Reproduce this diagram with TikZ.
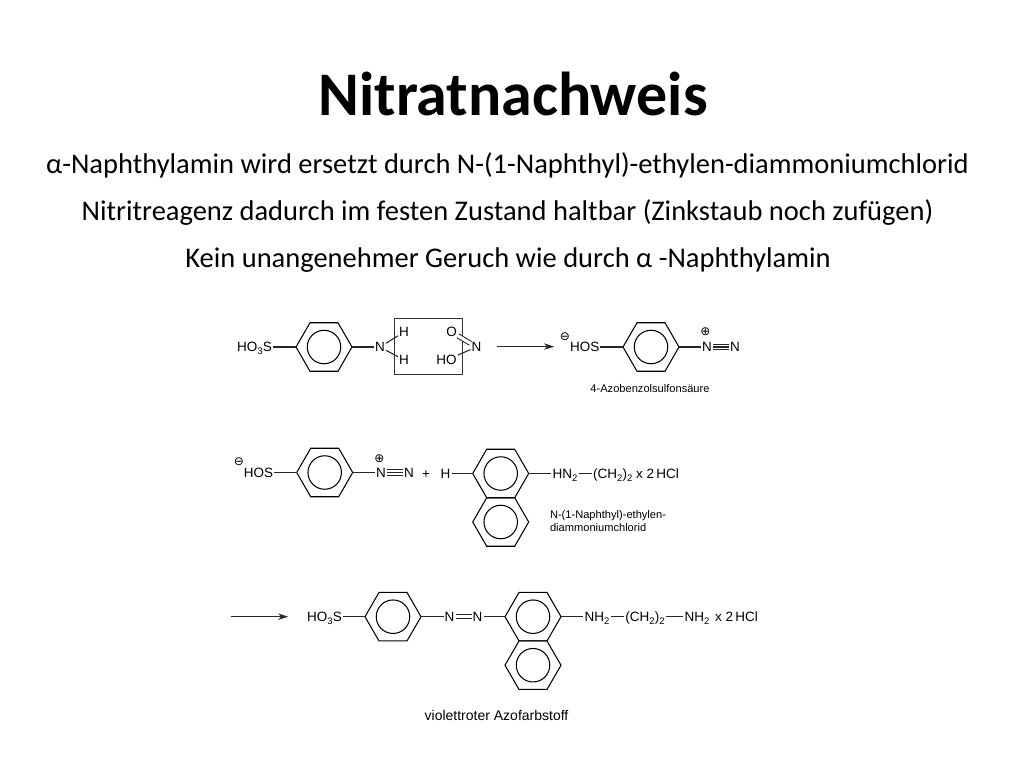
\documentclass[tikz,border=0pt]{standalone}
\usepackage{fontspec}
\usepackage{xcolor}
\setmainfont{Carlito}
\newfontfamily\chem{Liberation Sans}
\newfontfamily\ladung{DejaVu Sans}
\usetikzlibrary{shapes.geometric,arrows.meta}
\newcommand{\tief}[1]{\raisebox{-2.8pt}{\fontsize{9.5}{9.5}\selectfont #1}}

\begin{document}
\begin{tikzpicture}[x=1pt,y=-1pt,line width=1.05pt,
   titel/.style={anchor=base,inner sep=0pt,font=\fontsize{62}{62}\selectfont\bfseries},
   zeile/.style={anchor=base,inner sep=0pt,font=\fontsize{28.5}{28.5}\selectfont},
   atom/.style={inner sep=0.6pt,text height=9.7pt,text depth=0pt,font=\chem\fontsize{13.5}{13.5}\selectfont},
   legende/.style={inner sep=0pt,align=left,font=\chem\fontsize{11.1}{13}\selectfont},
   ladungszeichen/.style={inner sep=0pt,font=\ladung\fontsize{12}{12}\selectfont},
   benzol/.style={regular polygon,regular polygon sides=6,draw,minimum size=56pt,inner sep=0pt,outer sep=0pt},
   kreis/.style={circle,draw,minimum size=33.5pt,inner sep=0pt,outer sep=0pt},
   bond/.style={draw=black!85},
   doppelt/.style={double,double distance=3.2pt},
   dreifach/.style={double,double distance=4.6pt},
   pfeil/.style={-{Stealth[length=10pt,width=6.5pt]},draw=black!85}]

  \useasboundingbox (0,0) rectangle (1024,768);

  \node[titel](titel) at (513,115) {Nitratnachweis};
  \node[zeile](zeile1) at (507.5,173) {α-Naphthylamin wird ersetzt durch N-(1-Naphthyl)-ethylen-diammoniumchlorid};
  \node[zeile](zeile2) at (507.5,220) {Nitritreagenz dadurch im festen Zustand haltbar (Zinkstaub noch zufügen)};
  \node[zeile](zeile3) at (508,267) {Kein unangenehmer Geruch wie durch α -Naphthylamin};

  % ringe
  \foreach \nm/\px/\py in {ra/324/347,rb/651/347,rc/324.7/472.5,rd/500.7/473.5,re/500.7/522,rf/393/616.7,rg/533/616.7,rh/533/665.2} {
    \node[benzol](\nm) at (\px,\py) {};
    \node[kreis](\nm k) at (\px,\py) {};
  }

  % erste zeile
  \node[atom](a1) at (254.5,347) {HO\tief{3}S};
  \node[atom](a2) at (380,347) {N};
  \node[atom](a3) at (404,332) {H};
  \node[atom](a4) at (404,360) {H};
  \node[atom](a5) at (451.5,332) {O};
  \node[atom](a6) at (476.5,347) {N};
  \node[atom](a7) at (446.5,360) {HO};
  \node[draw=black!80,line width=0.9pt,inner sep=0pt,minimum width=68pt,minimum height=56pt](kasten) at (428.7,346) {};
  \coordinate (p1) at (497,346.6);
  \coordinate (p2) at (554,346.6);
  \node[atom](b1) at (584.7,347) {HOS};
  \node[ladungszeichen](b2) at (565,336.5) {⊖};
  \node[atom](b3) at (707,347) {N};
  \node[ladungszeichen](b4) at (705.5,332) {⊕};
  \node[atom](b5) at (735,347) {N};
  \node[legende](b6) at (650,388.5) {4-Azobenzolsulfonsäure};

  % zweite zeile
  \node[atom](c1) at (258.5,472.5) {HOS};
  \node[ladungszeichen](c2) at (239,462) {⊖};
  \node[atom](c3) at (381,472.5) {N};
  \node[ladungszeichen](c4) at (379.5,458.5) {⊕};
  \node[atom](c5) at (409,472.5) {N};
  \node[atom](c6) at (426,474) {+};
  \node[atom](d1) at (445.5,473.5) {H};
  \node[atom](d2) at (565,473.5) {HN\tief{2}};
  \node[atom](d3) at (636,473.5) {(CH\tief{2})\tief{2} x 2\,HCl};
  \node[legende,anchor=north west](d4) at (549.5,510) {N-(1-Naphthyl)-ethylen-\\diammoniumchlorid};

  % dritte zeile
  \coordinate (p3) at (231,616.7);
  \coordinate (p4) at (288,616.7);
  \node[atom](e1) at (324.5,616.7) {HO\tief{3}S};
  \node[atom](e2) at (449.5,616.7) {N};
  \node[atom](e3) at (477.5,616.7) {N};
  \node[atom](g1) at (597,616.7) {NH\tief{2}};
  \node[atom](g2) at (645,616.7) {(CH\tief{2})\tief{2}};
  \node[atom](g3) at (697,616.7) {NH\tief{2}};
  \node[atom](g4) at (736.5,616.7) {x 2\,HCl};
  \node[legende,font=\chem\fontsize{14}{14}\selectfont](g5) at (496.5,715) {violettroter Azofarbstoff};

  % bindungen
  \foreach \from/\to in {a1/ra,ra/a2,a2/a3,a2/a4,a7/a6,b1/rb,rb/b3,c1/rc,rc/c3,d1/rd,rd/d2,d2/d3,e1/rf,rf/e2,e3/rg,rg/g1,g1/g2,g2/g3}
    \draw[bond] (\from) -- (\to);

  \draw[bond,doppelt] (a5) -- (a6);
  \draw[bond,dreifach] (b3) -- (b5);
  \draw[bond] (b3) -- (b5);
  \draw[bond,dreifach] (c3) -- (c5);
  \draw[bond] (c3) -- (c5);
  \draw[bond,doppelt] (e2) -- (e3);

  \draw[pfeil] (p1) -- (p2);
  \draw[pfeil] (p3) -- (p4);
\end{tikzpicture}
\end{document}
